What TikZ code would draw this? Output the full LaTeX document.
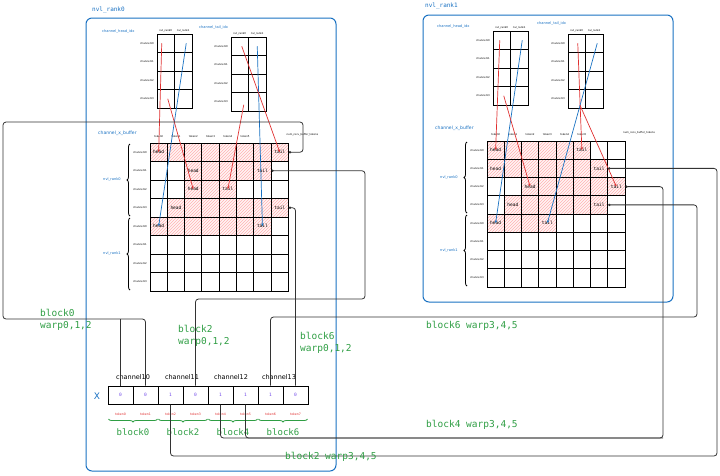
\documentclass[tikz,border=0pt]{standalone}
\usepackage{fontspec}
\setmainfont{DejaVu Sans}
\newfontfamily\mono{DejaVu Sans Mono}
\usetikzlibrary{patterns,decorations.pathreplacing,arrows.meta}
\definecolor{pblue}{HTML}{1971C2}
\definecolor{pgreen}{HTML}{2F9E44}
\definecolor{pred}{HTML}{E03131}
\definecolor{ppurple}{HTML}{7048E8}
\tikzset{
  cell/.style={draw=black,line width=1pt,inner sep=0pt,font=\mono\fontsize{4.5}{5}\selectfont},
  tiny/.style={font=\fontsize{2.6}{3}\selectfont,inner sep=0pt},
  btiny/.style={tiny,text=pblue,font=\fontsize{3.6}{4}\selectfont},
  hatch/.style={fill=red!4,postaction={pattern=north east lines,pattern color=red!30}},
  redar/.style={draw=pred,line width=0.7pt,-{Stealth[length=3pt]}},
  bluar/.style={draw=pblue,line width=0.7pt,-{Stealth[length=3pt]}},
  conn/.style={draw=black!80,line width=0.8pt,rounded corners=3pt,-{Circle[length=2.2pt]}},
  connp/.style={draw=black!80,line width=0.8pt,rounded corners=3pt},
  panel/.style={draw=pblue,line width=1pt,rounded corners=6pt},
  glab/.style={text=pgreen,font=\mono\fontsize{9.5}{12.5}\selectfont,anchor=west,inner sep=0pt,align=left},
  mybrace/.style={decorate,decoration={brace,amplitude=3pt},line width=0.8pt}
}
\newcommand\mybuf[6]{%
  \foreach \r/\a/\b in {#6}{\fill[hatch] (#2+#4*\a-#4,#3+#5*\r-#5) rectangle (#2+#4*\b,#3+#5*\r);}
  \foreach \j in {0,...,7}{\foreach \i in {0,...,7}{%
    \node[cell,minimum width=#4pt,minimum height=#5pt] (#1-\j-\i) at (#2+#4*\i+#4/2,#3+#5*\j+#5/2) {};}}
  \foreach \i in {0,...,5}{\node[tiny] at (#2+#4*\i+#4/2,#3-6) {token\i};}
  \node[tiny] at (#2+#4*8+14,#3-8) {num\_recv\_buffer\_tokens};
  \foreach \j/\t in {0/channel10,1/channel11,2/channel12,3/channel13,4/channel10,5/channel11,6/channel12,7/channel13}{\node[tiny] at (#2-10,#3+#5*\j+#5/2) {\t};}
  \draw[mybrace] (#2-20,#3+#5*4-1) -- (#2-20,#3+1);
  \draw[mybrace] (#2-20,#3+#5*8-1) -- (#2-20,#3+#5*4+1);
  \node[btiny] at (#2-38,#3+#5*2) {nvl\_rank0};
  \node[btiny] at (#2-38,#3+#5*6) {nvl\_rank1};
}
\newcommand\mytab[5]{%
  \foreach \j in {0,...,3}{\foreach \i in {0,1}{%
    \node[cell,minimum width=#4pt,minimum height=#5pt] (#1-\j-\i) at (#2+#4*\i+#4/2,#3+#5*\j+#5/2) {};}}
  \node[tiny] at (#2+#4/2,#3-3.5) {nvl\_rank0};
  \node[tiny] at (#2+#4*1.5,#3-3.5) {nvl\_rank1};
  \foreach \j in {0,...,3}{\node[tiny] at (#2-10,#3+#5*\j+#5/2) {channel1\j};}
}
\begin{document}
\begin{tikzpicture}[x=1pt,y=-1pt]
\useasboundingbox (0,0) rectangle (720,475);
\draw[panel] (86,18) rectangle (336,471);
\node[text=pblue,font=\mono\fontsize{6}{7}\selectfont,anchor=west,inner sep=0pt] (t0) at (92,10) {nvl\_rank0};
\draw[panel] (423,15) rectangle (673,302);
\node[text=pblue,font=\mono\fontsize{6}{7}\selectfont,anchor=west,inner sep=0pt] (t1) at (425,6) {nvl\_rank1};
% left panel
\node[btiny,anchor=west] (lhl) at (102,32) {channel\_head\_idx};
\node[btiny,anchor=west] (ltl) at (199,28) {channel\_tail\_idx};
\mytab{LH}{157}{34}{17.5}{18.5}
\mytab{LT}{231}{37}{17.5}{18.5}
\node[btiny,anchor=west,font=\fontsize{4.5}{5}\selectfont] (lbl) at (98,133) {channel\_x\_buffer};
\mybuf{L}{150}{143}{17.3}{18.5}{1/1/8,2/3/7,3/3/5,4/2/8,5/1/7}
\foreach \c/\t in {L-0-0/head,L-0-7/tail,L-1-2/head,L-1-6/tail,L-2-2/head,L-2-4/tail,L-3-1/head,L-3-7/tail,L-4-0/head,L-4-6/tail}{\node[font=\mono\fontsize{4.5}{5}\selectfont,inner sep=0pt] at (\c) {\t};}
\draw[redar] ([xshift=-4pt]LH-0-0.center) -- (L-0-0.center);
\draw[bluar] ([xshift=3pt]LH-0-1.center) -- (L-4-0.center);
\draw[redar] ([xshift=2pt]LH-3-0.center) -- (L-2-2.center);
\draw[redar] ([xshift=4pt,yshift=-3pt]LT-3-0.center) -- (L-2-4.center);
\draw[bluar] (LT-0-1.center) -- (L-4-6.center);
\draw[redar] ([xshift=2pt]LT-0-0.center) -- (L-0-7.center);
% right panel
\node[btiny,anchor=west] (rhl) at (437,27) {channel\_head\_idx};
\node[btiny,anchor=west] (rtl) at (537,24) {channel\_tail\_idx};
\mytab{RH}{493}{31}{17.5}{18.5}
\mytab{RT}{568}{34}{17.5}{18.5}
\node[btiny,anchor=west,font=\fontsize{4.5}{5}\selectfont] (rbl) at (435,128) {channel\_x\_buffer};
\mybuf{R}{487}{141}{17.25}{18.25}{1/1/6,2/1/7,3/3/8,4/2/7,5/1/4}
\foreach \c/\t in {R-0-0/head,R-0-5/tail,R-1-0/head,R-1-6/tail,R-2-2/head,R-2-7/tail,R-3-1/head,R-3-6/tail,R-4-0/head,R-4-3/tail}{\node[font=\mono\fontsize{4.5}{5}\selectfont,inner sep=0pt] at (\c) {\t};}
\draw[redar] ([xshift=-2pt]RH-0-0.center) -- (R-0-0.center);
\draw[bluar] ([xshift=3pt]RH-0-1.center) -- (R-4-0.center);
\draw[redar] ([xshift=2pt]RH-3-0.center) -- (R-2-2.center);
\draw[redar] ([xshift=1pt]RT-0-0.center) -- (R-0-5.center);
\draw[bluar] ([xshift=3pt]RT-0-1.center) -- (R-4-3.center);
\draw[redar] ([xshift=3pt,yshift=-6pt]RT-3-0.center) -- (R-2-7.center);
% x array
\node[text=pblue,font=\fontsize{9}{10}\selectfont,inner sep=0pt] (xl) at (97,396) {X};
\foreach \i/\v in {0/0,1/0,2/1,3/0,4/1,5/1,6/1,7/0}{%
  \node[cell,minimum width=25pt,minimum height=18pt,text=ppurple] (X\i) at (120.5+25*\i,395) {\v};
  \node[tiny,text=pred,font=\fontsize{3.2}{4}\selectfont] at (120.5+25*\i,414) {token\i};}
\foreach \k/\n in {0/0,1/2,2/4,3/6}{%
  \draw[mybrace,draw=pgreen] (158-0.5+50*\k,419) -- (108.5+50*\k,419);
  \node[text=pgreen,font=\mono\fontsize{9}{10}\selectfont,inner sep=0pt] at (133+50*\k,432) {block\n};}
\foreach \i/\x in {0/133,1/182,2/231,3/279}{\node[font=\fontsize{6.5}{7}\selectfont,inner sep=0pt] at (\x,377) {channel1\i};}
% connectors
\draw[connp] (X0.north) -- (120.5,319);
\draw[conn] (X1.north) -- (145.5,319) -- (3,319) -- (3,122) -- (303,122) |- (L-0-7.east);
\draw[conn] (X3.north) |- (365,299) |- (L-1-6.east);
\draw[conn] (X7.north) |- (L-3-7.east);
\draw[conn] (X6.north) |- (697,317) |- (R-3-6.east);
\draw[connp] (X5.south) |- (663,438);
\draw[conn] (X4.south) |- (663,438) |- (R-2-7.east);
\draw[conn] (X2.south) |- (717,456) |- (R-1-6.east);
% labels
\node[glab] at (40,320) {block0\\warp0,1,2};
\node[glab] at (178,336) {block2\\warp0,1,2};
\node[glab] at (300,343) {block6\\warp0,1,2};
\node[glab] at (426,326) {block6 warp3,4,5};
\node[glab] at (426,425) {block4 warp3,4,5};
\node[glab] at (285,457) {block2 warp3,4,5};
\end{tikzpicture}
\end{document}
